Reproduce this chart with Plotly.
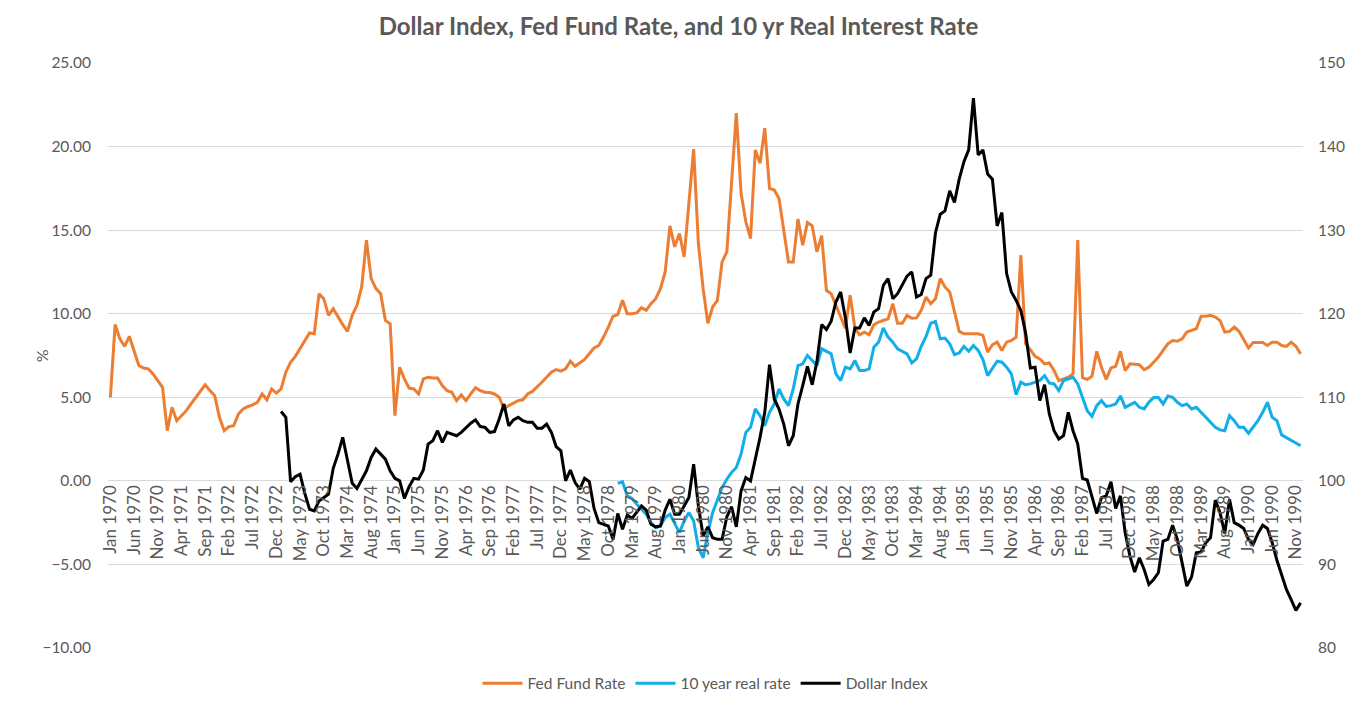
import plotly.graph_objects as go

# ---------------- data ----------------
month_names = ["Jan", "Feb", "Mar", "Apr", "May", "Jun",
               "Jul", "Aug", "Sep", "Oct", "Nov", "Dec"]
years = list(range(1970, 1991))
months = [f"{m} {y}" for y in years for m in month_names]  # Jan 1970 .. Dec 1990

# Fed Fund Rate, Jan 1970 - Dec 1990 (%)
fed_fund_rate = [
    5.0, 9.35, 8.5, 8.05, 8.65, 7.7, 6.9, 6.75, 6.7, 6.4, 6.0, 5.6,            # 1970
    3.0, 4.4, 3.6, 3.9, 4.2, 4.6, 5.0, 5.4, 5.75, 5.4, 5.1, 3.8,               # 1971
    3.0, 3.25, 3.3, 4.0, 4.3, 4.45, 4.55, 4.7, 5.2, 4.85, 5.5, 5.25,           # 1972
    5.5, 6.5, 7.1, 7.45, 7.9, 8.4, 8.85, 8.8, 11.2, 10.9, 9.9, 10.3,           # 1973
    9.8, 9.35, 8.95, 9.9, 10.5, 11.6, 14.4, 12.1, 11.5, 11.2, 9.6, 9.4,        # 1974
    3.9, 6.8, 6.1, 5.55, 5.5, 5.2, 6.1, 6.2, 6.15, 6.15, 5.7, 5.4,             # 1975
    5.3, 4.8, 5.14, 4.8, 5.2, 5.57, 5.4, 5.3, 5.28, 5.2, 5.0, 4.3,             # 1976
    4.5, 4.65, 4.8, 4.85, 5.2, 5.35, 5.6, 5.9, 6.2, 6.5, 6.66, 6.56,           # 1977
    6.7, 7.16, 6.86, 7.05, 7.26, 7.6, 7.95, 8.1, 8.6, 9.2, 9.85, 9.95,         # 1978
    10.8, 10.0, 10.0, 10.05, 10.36, 10.2, 10.6, 10.9, 11.5, 12.5, 15.26, 14.0, # 1979
    14.8, 13.4, 16.5, 19.85, 14.2, 11.5, 9.43, 10.4, 10.8, 13.1, 13.7, 18.0,   # 1980
    22.0, 17.2, 15.5, 14.5, 19.8, 19.0, 21.1, 17.5, 17.4, 16.9, 15.0, 13.1,    # 1981
    13.1, 15.66, 14.1, 15.46, 15.26, 13.7, 14.67, 11.4, 11.2, 10.5, 9.92, 9.13,  # 1982
    11.1, 9.13, 8.74, 8.9, 8.74, 9.33, 9.5, 9.6, 9.7, 10.6, 9.43, 9.43,        # 1983
    9.9, 9.73, 9.75, 10.2, 11.0, 10.6, 10.9, 12.1, 11.6, 11.3, 10.2, 8.94,     # 1984
    8.8, 8.8, 8.8, 8.8, 8.7, 7.7, 8.14, 8.3, 7.8, 8.3, 8.4, 8.6,               # 1985
    13.5, 8.2, 7.85, 7.45, 7.3, 7.0, 7.05, 6.6, 6.0, 6.1, 6.2, 6.4,            # 1986
    14.4, 6.17, 6.07, 6.25, 7.75, 6.8, 6.07, 6.76, 6.85, 7.75, 6.6, 7.0,       # 1987
    6.96, 6.95, 6.65, 6.8, 7.1, 7.4, 7.8, 8.2, 8.4, 8.35, 8.5, 8.9,            # 1988
    9.0, 9.1, 9.85, 9.85, 9.9, 9.8, 9.6, 8.9, 8.94, 9.2, 8.95, 8.44,           # 1989
    7.95, 8.28, 8.28, 8.28, 8.1, 8.3, 8.3, 8.1, 8.05, 8.3, 8.05, 7.6,          # 1990
]

# 10 year real rate, Dec 1978 - Dec 1990 (%)
real_rate_start = "Dec 1978"
real_rate = [
    -0.15,                                                                     # Dec 1978
    -0.05, -0.9, -1.05, -1.4, -1.7, -2.0, -2.5, -2.8, -2.7, -2.2, -2.0, -2.6,  # 1979
    -3.1, -2.4, -1.9, -2.4, -4.0, -4.6, -3.1, -1.9, -1.1, -0.4, 0.1, 0.5,      # 1980
    0.8, 1.6, 2.9, 3.2, 4.3, 3.9, 3.3, 4.1, 4.6, 5.5, 4.9, 4.5,                # 1981
    5.5, 6.9, 7.0, 7.5, 7.2, 6.9, 7.9, 7.75, 7.6, 6.4, 6.0, 6.8,               # 1982
    6.7, 7.2, 6.6, 6.6, 6.7, 8.0, 8.3, 9.15, 8.6, 8.3, 7.9, 7.75,              # 1983
    7.6, 7.06, 7.3, 8.05, 8.64, 9.43, 9.53, 8.5, 8.54, 8.2, 7.55, 7.65,        # 1984
    8.05, 7.75, 8.1, 7.8, 7.26, 6.3, 6.76, 7.16, 7.1, 6.8, 6.4, 5.15,          # 1985
    5.9, 5.75, 5.8, 5.9, 6.0, 6.3, 5.85, 5.8, 5.4, 6.0, 6.1, 6.2,              # 1986
    5.8, 5.0, 4.2, 3.85, 4.5, 4.8, 4.45, 4.5, 4.6, 5.08, 4.4, 4.55,            # 1987
    4.7, 4.4, 4.3, 4.7, 4.98, 4.98, 4.6, 5.08, 5.0, 4.7, 4.5, 4.6,             # 1988
    4.3, 4.4, 4.1, 3.8, 3.55, 3.2, 3.05, 3.0, 3.9, 3.6, 3.2, 3.2,              # 1989
    2.85, 3.2, 3.6, 4.1, 4.7, 3.8, 3.6, 2.75, 2.6, 2.4, 2.25, 2.1,             # 1990
]

# Dollar Index, Jan 1973 - Dec 1990 (right axis)
dollar_start = "Jan 1973"
dollar_index = [
    108.3, 107.6, 99.9, 100.5, 100.8, 98.5, 96.6, 96.4, 97.6, 98.0, 98.4, 101.5,       # 1973
    103.2, 105.2, 102.5, 99.7, 99.1, 100.1, 101.2, 102.8, 103.8, 103.2, 102.6, 101.2,  # 1974
    100.3, 100.0, 97.9, 99.3, 100.3, 100.2, 101.3, 104.4, 104.8, 106.0, 104.6, 105.8,  # 1975
    105.6, 105.4, 105.8, 106.4, 106.9, 107.3, 106.5, 106.4, 105.8, 105.9, 107.4, 109.2,  # 1976
    106.6, 107.3, 107.6, 107.2, 107.0, 107.0, 106.3, 106.3, 106.8, 105.8, 104.1, 103.6,  # 1977
    100.0, 101.3, 99.8, 99.0, 100.3, 99.9, 96.7, 95.0, 94.8, 94.6, 93.0, 96.1,        # 1978
    94.2, 95.9, 95.5, 96.2, 97.0, 96.5, 94.8, 94.5, 94.6, 96.5, 97.8, 96.0,           # 1979
    96.0, 97.0, 98.0, 102.0, 97.0, 93.4, 94.5, 93.2, 93.0, 93.0, 95.7, 96.9,          # 1980
    94.5, 98.8, 100.4, 100.0, 102.5, 105.2, 108.2, 113.9, 109.8, 108.6, 106.8, 104.2,  # 1981
    105.4, 109.2, 111.4, 113.7, 111.5, 114.3, 118.7, 118.1, 119.1, 121.4, 122.6, 119.5,  # 1982
    115.3, 118.3, 118.3, 119.5, 118.6, 120.2, 120.6, 123.4, 124.2, 121.8, 122.4, 123.4,  # 1983
    124.5, 125.0, 122.0, 122.3, 124.2, 124.6, 129.7, 131.9, 132.3, 134.7, 133.3, 136.1,  # 1984
    138.2, 139.6, 145.8, 139.0, 139.6, 136.7, 136.1, 130.5, 132.1, 124.8, 122.6, 121.6,  # 1985
    120.4, 117.7, 113.5, 113.6, 109.6, 111.5, 108.0, 106.0, 105.0, 105.4, 108.2, 106.0,  # 1986
    104.4, 100.3, 100.1, 98.1, 96.1, 98.0, 98.2, 99.9, 96.7, 98.2, 93.8, 91.0,        # 1987
    89.1, 90.8, 89.4, 87.6, 88.2, 89.0, 92.8, 93.0, 94.7, 93.0, 90.4, 87.4,           # 1988
    88.5, 91.4, 91.5, 92.6, 93.2, 97.7, 96.2, 93.7, 97.8, 95.0, 94.7, 94.3,           # 1989
    93.0, 92.4, 93.7, 94.7, 94.3, 92.6, 90.5, 88.6, 87.0, 85.8, 84.5, 85.4,           # 1990
]

tick_labels = months[::5]

# ---------------- figure ----------------
GRAY = "#595959"
FONT = "Lato"

rr_i = months.index(real_rate_start)
di_i = months.index(dollar_start)

fig = go.Figure()
fig.add_trace(go.Scatter(x=months, y=fed_fund_rate, name="Fed Fund Rate",
                         mode="lines", line=dict(color="#ED7D31", width=3)))
fig.add_trace(go.Scatter(x=months[rr_i:rr_i + len(real_rate)], y=real_rate,
                         name="10 year real rate", mode="lines",
                         line=dict(color="#12AEEA", width=3)))
fig.add_trace(go.Scatter(x=months[di_i:di_i + len(dollar_index)], y=dollar_index,
                         name="Dollar Index", mode="lines", yaxis="y2",
                         line=dict(color="#000000", width=3)))

fig.update_layout(
    width=1357, height=713,
    margin=dict(l=108, r=50, t=63, b=61),
    paper_bgcolor="white", plot_bgcolor="white",
    font=dict(family=FONT, color=GRAY, size=15),
    title=dict(text="Dollar Index, Fed Fund Rate, and 10 yr Real Interest Rate",
               x=0.5, xanchor="center", y=0.963, yanchor="middle",
               font=dict(family=FONT, size=24, color=GRAY, weight="bold")),
    xaxis=dict(type="category", categoryorder="array", categoryarray=months,
               range=[-0.5, len(months) - 0.5],
               tickmode="array", tickvals=tick_labels, ticktext=tick_labels,
               tickangle=-90, showgrid=False, showline=False, zeroline=False,
               ticks="", anchor="free", position=10 / 35,
               tickfont=dict(family=FONT, size=17, color=GRAY)),
    yaxis=dict(range=[-10, 25], dtick=5, tick0=0, tickformat=".2f",
               showgrid=True, gridcolor="#d9d9d9", gridwidth=1,
               zeroline=False, showline=False, ticks="",
               ticklabelstandoff=16,
               tickfont=dict(family=FONT, size=15.5, color=GRAY)),
    yaxis2=dict(range=[80, 150], dtick=10, overlaying="y", side="right",
                showgrid=False, zeroline=False, showline=False, ticks="",
                ticklabelstandoff=14,
                tickfont=dict(family=FONT, size=15.5, color=GRAY)),
    legend=dict(orientation="h", x=0.5, xanchor="center", y=-0.061,
                yanchor="middle", font=dict(family=FONT, size=15.5, color=GRAY),
                bgcolor="rgba(0,0,0,0)", itemwidth=40, tracegroupgap=0),
    annotations=[dict(text="%", x=-0.065, y=0.5, xref="paper", yref="paper",
                      showarrow=False, textangle=-90,
                      font=dict(family=FONT, size=16, color=GRAY))],
    showlegend=True,
)

fig.write_html("out.html")
